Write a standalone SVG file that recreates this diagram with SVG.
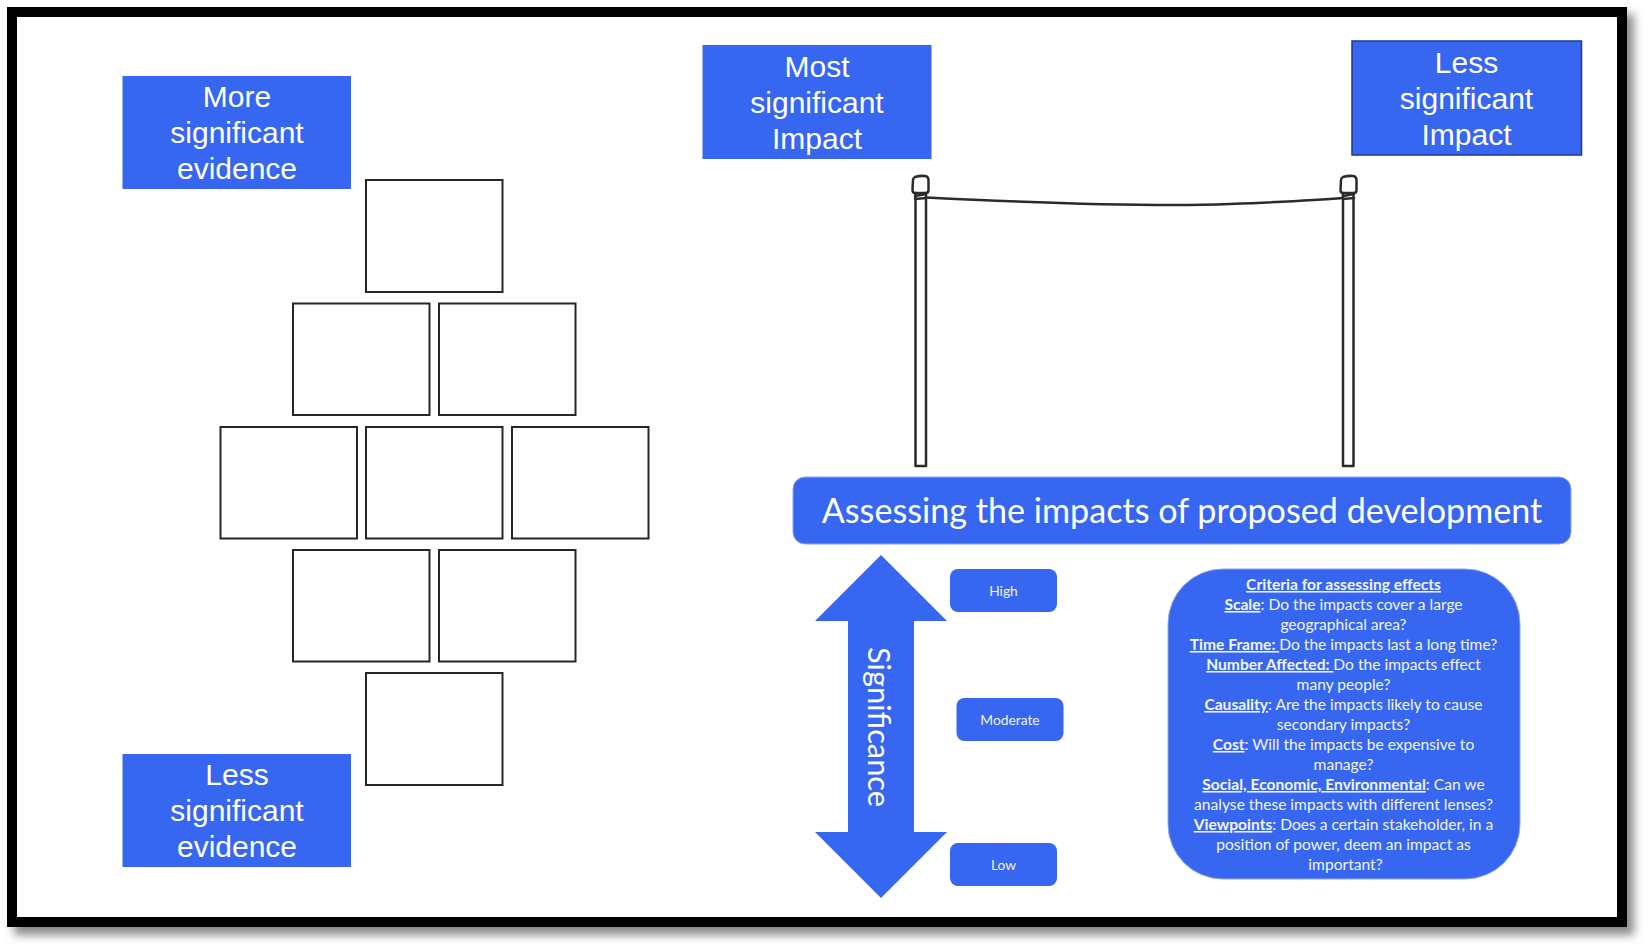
<svg xmlns="http://www.w3.org/2000/svg" width="1648" height="948" viewBox="0 0 1648 948">
<style>
  .blue { fill: #3766f0; }
  .edge { stroke: #8ea6e8; stroke-width: 1; }
  .slot { fill: #fff; stroke: #262626; stroke-width: 2; }
  .ink { fill: none; stroke: #2b2b2b; stroke-width: 2.5; stroke-linejoin: round; stroke-linecap: round; }
  .head { font: 30px "Liberation Sans", Arial, sans-serif; fill: #fff; text-anchor: middle; }
  .cal { font-family: Lato, "Open Sans", sans-serif; fill: #f2f5ff; text-anchor: middle; }
  .tag { font-size: 13.8px; }
  .crit { font-size: 15.6px; }
  .crit .b { font-weight: 700; text-decoration: underline; }
</style>
<defs>
  <filter id="soft" x="-5%" y="-5%" width="110%" height="110%"><feGaussianBlur stdDeviation="5"/></filter>
  <!-- post cap and top band, shared by both posts -->
  <g id="cap">
    <path class="ink" d="M3 2 Q8 0.500 13 1 Q16.500 1.500 16.500 5 L16.500 15 Q16.500 18 14 18 H3 Q0.500 18 0.500 15 L1 5 Q1 3 3 2 Z"/>
    <path class="ink" d="M3 21 L14 19 M3 24 L14 23" stroke-width="1.800"/>
  </g>
</defs>

<!-- page frame with drop shadow -->
<g id="frame">
  <rect x="14" y="14" width="1620" height="921" fill="#8a8a8a" filter="url(#soft)"/>
  <rect x="12" y="12" width="1610" height="910" fill="#fff" stroke="#000" stroke-width="10"/>
</g>

<g id="more-evidence">
  <rect class="blue" x="122.500" y="76" width="228.500" height="113"/>
  <text class="head"><tspan x="237" y="107">More</tspan><tspan x="237" y="143">significant</tspan><tspan x="237" y="179">evidence</tspan></text>
</g>
<g id="less-evidence">
  <rect class="blue" x="122.500" y="754" width="228.500" height="113"/>
  <text class="head"><tspan x="237" y="785">Less</tspan><tspan x="237" y="821">significant</tspan><tspan x="237" y="857">evidence</tspan></text>
</g>

<!-- diamond of empty evidence cards -->
<g id="card-1"><rect class="slot" x="366" y="180" width="136.500" height="112"/></g>
<g id="card-2"><rect class="slot" x="293" y="303.500" width="136.500" height="111.500"/></g>
<g id="card-3"><rect class="slot" x="439" y="303.500" width="136.500" height="111.500"/></g>
<g id="card-4"><rect class="slot" x="220.500" y="427" width="136.500" height="111.500"/></g>
<g id="card-5"><rect class="slot" x="366" y="427" width="136.500" height="111.500"/></g>
<g id="card-6"><rect class="slot" x="512" y="427" width="136.500" height="111.500"/></g>
<g id="card-7"><rect class="slot" x="293" y="550" width="136.500" height="111.500"/></g>
<g id="card-8"><rect class="slot" x="439" y="550" width="136.500" height="111.500"/></g>
<g id="card-9"><rect class="slot" x="366" y="673" width="136.500" height="112"/></g>

<g id="most-impact">
  <rect class="blue" x="702.500" y="45" width="229" height="114"/>
  <text class="head"><tspan x="817" y="77">Most</tspan><tspan x="817" y="113">significant</tspan><tspan x="817" y="149">Impact</tspan></text>
</g>
<g id="less-impact">
  <rect class="blue" x="1352" y="41" width="229.500" height="114" stroke="#1c3a94" stroke-width="1.500"/>
  <text class="head"><tspan x="1466.500" y="73">Less</tspan><tspan x="1466.500" y="109">significant</tspan><tspan x="1466.500" y="145">Impact</tspan></text>
</g>

<!-- washing line strung between two posts -->
<g id="washing-line">
  <path class="ink" d="M915.500 193 V466 H926 V193"/>
  <path class="ink" d="M1343 193 V466 H1353.500 V193"/>
  <use href="#cap" x="912" y="175"/>
  <use href="#cap" x="1340" y="175"/>
  <path class="ink" d="M926 197.500 C1040 203 1150 207 1230 204 C1280 202 1320 200 1343 198"/>
</g>

<g id="title-banner">
  <rect class="blue edge" x="793" y="477" width="778" height="67" rx="12"/>
  <text class="cal" x="1182" y="523" font-size="34.150" style="fill:#fff">Assessing the impacts of proposed development</text>
</g>

<g id="significance-arrow">
  <polygon class="blue" points="881,555 947,621 914,621 914,832 947,832 881,898 815,832 848,832 848,621 815,621"/>
  <text class="head" transform="translate(868,727) rotate(90)" style="font-size:30.800px;font-family:Lato,sans-serif">Significance</text>
</g>

<g id="level-high">
  <rect class="blue" x="950" y="569" width="107" height="43" rx="8"/>
  <text class="cal tag" x="1003.500" y="596">High</text>
</g>
<g id="level-moderate">
  <rect class="blue" x="956.500" y="698" width="107" height="43" rx="8"/>
  <text class="cal tag" x="1010" y="725">Moderate</text>
</g>
<g id="level-low">
  <rect class="blue" x="950" y="843" width="107" height="43" rx="8"/>
  <text class="cal tag" x="1003.500" y="870">Low</text>
</g>

<g id="criteria">
  <rect class="blue edge" x="1168" y="569" width="352" height="310" rx="55"/>
  <text class="cal crit">
    <tspan x="1345.500" y="590" class="b">Criteria for assessing effects</tspan>
    <tspan x="1345.500" y="610"><tspan class="b">Scale</tspan>: Do the impacts cover a large</tspan>
    <tspan x="1345.500" y="630">geographical area?</tspan>
    <tspan x="1345.500" y="650"><tspan class="b">Time Frame: </tspan>Do the impacts last a long time?</tspan>
    <tspan x="1345.500" y="670"><tspan class="b">Number Affected: </tspan>Do the impacts effect</tspan>
    <tspan x="1345.500" y="690">many people?</tspan>
    <tspan x="1345.500" y="710"><tspan class="b">Causality</tspan>: Are the impacts likely to cause</tspan>
    <tspan x="1345.500" y="730">secondary impacts?</tspan>
    <tspan x="1345.500" y="750"><tspan class="b">Cost</tspan>: Will the impacts be expensive to</tspan>
    <tspan x="1345.500" y="770">manage?</tspan>
    <tspan x="1345.500" y="790"><tspan class="b">Social, Economic, Environmental</tspan>: Can we</tspan>
    <tspan x="1345.500" y="810">analyse these impacts with different lenses?</tspan>
    <tspan x="1345.500" y="830"><tspan class="b">Viewpoints</tspan>: Does a certain stakeholder, in a</tspan>
    <tspan x="1345.500" y="850">position of power, deem an impact as</tspan>
    <tspan x="1345.500" y="870">important?</tspan>
  </text>
</g>
</svg>
